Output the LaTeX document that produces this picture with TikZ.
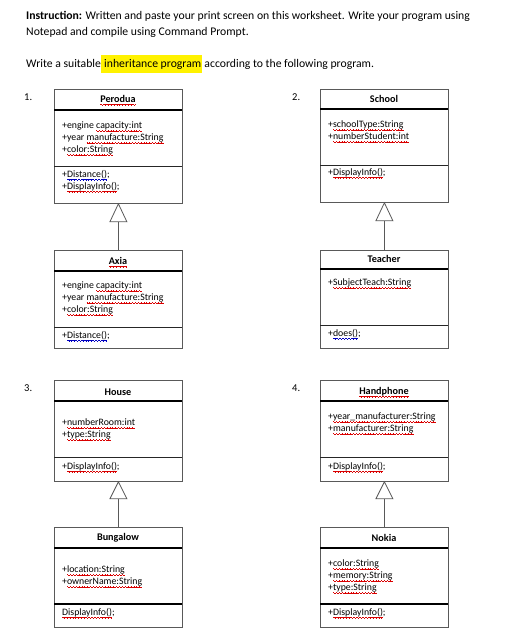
\documentclass[tikz,border=0pt]{standalone}
\usepackage{fontspec}
\setmainfont{Carlito}
\usetikzlibrary{positioning}

% wavy spell-check underlines (made of small rules)
\newcommand{\wavebit}{\rule[-2.1pt]{0.7pt}{0.5pt}\rule[-2.6pt]{0.7pt}{0.5pt}\rule[-3.1pt]{0.7pt}{0.5pt}\rule[-2.6pt]{0.7pt}{0.5pt}}
\newcommand{\wavy}[2]{\setbox0\hbox{#2}\rlap{\color{#1}\hbox to\wd0{\xleaders\hbox{\wavebit}\hfill}}\box0}
\newcommand{\sq}[1]{\wavy{red!85!black}{#1}}
\newcommand{\bsq}[1]{\wavy{blue!75!black}{#1}}

\tikzset{
  classbox/.style={draw=black!65, line width=0.8pt, inner sep=0pt, minimum width=128pt, anchor=north west},
  titleline/.style={draw=black, line width=1.2pt},
  sepline/.style={draw=black!85, line width=0.8pt},
  ctitle/.style={font=\fontsize{10.2}{12}\selectfont\bfseries, inner sep=0pt},
  cbody/.style={font=\fontsize{9.8}{12}\selectfont, align=left, anchor=west, inner sep=0pt},
  num/.style={font=\fontsize{10.5}{12}\selectfont, anchor=west, inner sep=0pt},
  tip/.style={draw=black!65, fill=white, line width=0.8pt},
  link/.style={draw=black!65, line width=0.8pt},
}

\begin{document}
\begin{tikzpicture}[x=1pt, y=-1pt]
    \useasboundingbox (0,0) rectangle (529,640);

    % 1. Instruction text
    \node[anchor=west, align=left, inner sep=0pt, font=\fontsize{11.7}{16}\selectfont] (instr) at (26,24)
        {\textbf{Instruction:} Written and paste your print screen on this worksheet. Write your program using\\
         Notepad and compile using Command Prompt.};
    \node[anchor=west, inner sep=0pt, font=\fontsize{11.7}{16}\selectfont] (task) at (26,64)
        {Write a suitable{\setlength{\fboxsep}{0.6pt}\colorbox{yellow}{\strut\ inheritance program}} according to the following program.};

    % 2. Numbers
    \node[num] (n1) at (24,97) {1.};
    \node[num] (n2) at (292,97) {2.};
    \node[num] (n3) at (24,388) {3.};
    \node[num] (n4) at (292,388) {4.};

    % 3. Perodua -> Axia
    \node[classbox, minimum height=114pt] (perodua) at (54,89) {};
    \draw[titleline] (54,110) -- (182,110);
    \draw[sepline] (54,166) -- (182,166);
    \node[ctitle] (perodua-t) at (118,100) {\sq{Perodua}};
    \node[cbody] (perodua-a) at (62,139) {+engine \sq{capacity:int}\\+year \sq{manufacture:String}\\+\sq{color:String}};
    \node[cbody] (perodua-m) at (62,181) {+\bsq{Distance()};\\+\sq{DisplayInfo()};};

    \node[classbox, minimum height=98pt] (axia) at (54,250) {};
    \draw[titleline] (54,271) -- (182,271);
    \draw[sepline] (54,327) -- (182,327);
    \node[ctitle] (axia-t) at (118,262) {\sq{Axia}};
    \node[cbody] (axia-a) at (62,299) {+engine \sq{capacity:int}\\+year \sq{manufacture:String}\\+\sq{color:String}};
    \node[cbody] (axia-m) at (62,336) {+\bsq{Distance()};};

    \coordinate[below=18pt of perodua.south] (t1);
    \draw[link] (t1) -- (axia.north);
    \draw[tip] (perodua.south) -- ++(-8.5,18) -- ++(17,0) -- cycle;

    % 4. School -> Teacher
    \node[classbox, minimum height=113pt] (school) at (320,89) {};
    \draw[titleline] (320,109) -- (448,109);
    \draw[sepline] (320,165) -- (448,165);
    \node[ctitle] (school-t) at (384,99) {School};
    \node[cbody] (school-a) at (328,132) {+\sq{schoolType:String}\\+\sq{numberStudent:int}};
    \node[cbody] (school-m) at (328,173) {+\sq{DisplayInfo()};};

    \node[classbox, minimum height=98pt] (teacher) at (320,250) {};
    \draw[titleline] (320,269) -- (448,269);
    \draw[sepline] (320,325) -- (448,325);
    \node[ctitle] (teacher-t) at (384,259) {Teacher};
    \node[cbody] (teacher-a) at (328,284) {+\sq{SubjectTeach:String}};
    \node[cbody] (teacher-m) at (328,334) {+\bsq{does()};};

    \coordinate[below=18pt of school.south] (t2);
    \draw[link] (t2) -- (teacher.north);
    \draw[tip] (school.south) -- ++(-8.5,18) -- ++(17,0) -- cycle;

    % 5. House -> Bungalow
    \node[classbox, minimum height=101pt] (house) at (54,380) {};
    \draw[titleline] (54,401) -- (182,401);
    \draw[sepline] (54,457) -- (182,457);
    \node[ctitle] (house-t) at (118,392) {House};
    \node[cbody] (house-a) at (62,430) {+\sq{numberRoom:int}\\+\sq{type:String}};
    \node[cbody] (house-m) at (62,467) {+\sq{DisplayInfo()};};

    \node[classbox, minimum height=100pt] (bungalow) at (54,527) {};
    \draw[titleline] (54,548) -- (182,548);
    \draw[titleline] (54,604) -- (182,604);
    \node[ctitle] (bungalow-t) at (118,538) {Bungalow};
    \node[cbody] (bungalow-a) at (62,577) {+\sq{location:String}\\+\sq{ownerName:String}};
    \node[cbody] (bungalow-m) at (62,613) {\sq{DisplayInfo()};};

    \coordinate[below=17pt of house.south] (t3);
    \draw[link] (t3) -- (bungalow.north);
    \draw[tip] (house.south) -- ++(-8.5,17) -- ++(17,0) -- cycle;

    % 6. Handphone -> Nokia
    \node[classbox, minimum height=101pt] (handphone) at (320,380) {};
    \draw[titleline] (320,401) -- (448,401);
    \draw[sepline] (320,457) -- (448,457);
    \node[ctitle] (handphone-t) at (384,392) {\sq{Handphone}};
    \node[cbody] (handphone-a) at (328,424) {+\sq{year\_manufacturer:String}\\+\sq{manufacturer:String}};
    \node[cbody] (handphone-m) at (328,467) {+\sq{DisplayInfo()};};

    \node[classbox, minimum height=100pt] (nokia) at (320,527) {};
    \draw[titleline] (320,548) -- (448,548);
    \draw[titleline] (320,604) -- (448,604);
    \node[ctitle] (nokia-t) at (384,538) {Nokia};
    \node[cbody] (nokia-a) at (328,577) {+\sq{color:String}\\+\sq{memory:String}\\+\sq{type:String}};
    \node[cbody] (nokia-m) at (328,613) {+\sq{DisplayInfo()};};

    \coordinate[below=17pt of handphone.south] (t4);
    \draw[link] (t4) -- (nokia.north);
    \draw[tip] (handphone.south) -- ++(-8.5,17) -- ++(17,0) -- cycle;

\end{tikzpicture}
\end{document}
